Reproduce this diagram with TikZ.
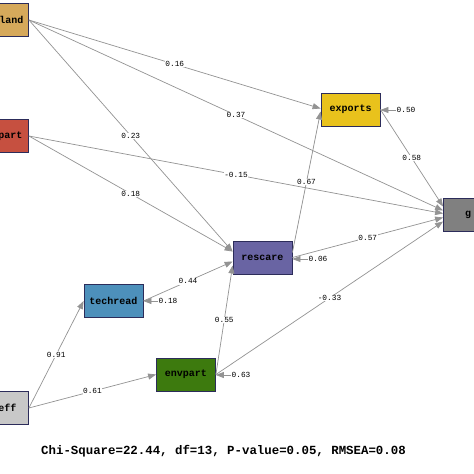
\documentclass[tikz,border=0pt]{standalone}
\usepackage{fontspec}
\setmonofont{Liberation Mono}
\usetikzlibrary{arrows.meta}

\definecolor{landcol}{HTML}{D6A95B}
\definecolor{partcol}{HTML}{C65040}
\definecolor{effcol}{HTML}{C8C8C8}
\definecolor{gdpcol}{HTML}{808080}
\definecolor{expcol}{HTML}{E9C21C}
\definecolor{rescol}{HTML}{6964A3}
\definecolor{techcol}{HTML}{4D90BB}
\definecolor{envcol}{HTML}{3D7A0E}
\definecolor{edgecol}{HTML}{939393}
\definecolor{rimcol}{HTML}{2C2C5A}

\begin{document}
\begin{tikzpicture}[x=1pt,y=-1pt,
  box/.style={draw=rimcol,line width=0.8pt,minimum width=59pt,minimum height=33pt,inner sep=0pt,
    font=\fontsize{10}{12}\selectfont\ttfamily\bfseries},
  link/.style={draw=edgecol,line width=0.7pt,-{Triangle[length=8pt,width=6pt]}},
  lab/.style={fill=white,inner sep=0.6pt,font=\fontsize{7.8}{9}\selectfont\ttfamily}]
  \useasboundingbox[fill=white] (0,0) rectangle (474,474);

  \node[box,fill=landcol] (land) at (-1,20) {\makebox[49pt][r]{land}};
  \node[box,fill=partcol] (part) at (-1,136) {\makebox[47pt][r]{part}};
  \node[box,fill=effcol] (eff) at (-1,408) {\makebox[35pt][r]{eff}};
  \node[box,fill=gdpcol] (gdp) at (473,214.5) {\makebox[16pt][l]{g}};
  \node[box,fill=expcol] (exports) at (350.5,109.5) {exports};
  \node[box,fill=rescol] (rescare) at (262.5,257.5) {rescare};
  \node[box,fill=techcol] (techread) at (113.5,301) {techread};
  \node[box,fill=envcol] (envpart) at (186,374.5) {envpart};

  \coordinate (gdp1) at ([yshift=8pt]gdp.west);
  \coordinate (gdp2) at ([yshift=4pt]gdp.west);
  \coordinate (gdp3) at ([yshift=1pt]gdp.west);
  \coordinate (gdp4) at ([yshift=-3pt]gdp.west);
  \coordinate (gdp5) at ([yshift=-7pt]gdp.west);
  \coordinate (res0) at ([yshift=5pt]rescare.east);
  \coordinate (res1) at ([yshift=6pt]rescare.west);
  \coordinate (res2) at ([yshift=-4pt]rescare.west);
  \coordinate (res3) at ([yshift=-8pt]rescare.west);
  \coordinate (exp1) at ([yshift=1pt]exports.west);
  \coordinate (exp2) at ([yshift=-2pt]exports.west);

  % residual arrows
  \foreach \n/\t/\x/\y/\v in {eexp/exports/406/110/0.50, eres/rescare/318/259/0.06,
                              etech/techread/168/301/0.18, eenv/envpart/241/375/0.63}{
    \node[lab] (\n) at (\x,\y) {\v};
    \draw[link] (\n.west) -- (\n.west -| \t.east);
  }

  \foreach \a/\b/\w in {land.east/exp1/0.16, land.east/gdp2/0.37, land.east/res1/0.23,
                        part.east/gdp3/-0.15, part.east/res1/0.18, res0/exp2/0.67,
                        exports.east/gdp1/0.58, rescare.east/gdp4/0.57, techread.east/res2/0.44,
                        envpart.east/res3/0.55, envpart.east/gdp5/-0.33,
                        eff.east/techread.west/0.91, eff.east/envpart.west/0.61}{
    \draw[link] (\a) -- node[lab]{\w} (\b);
  }

  \node[font=\fontsize{12.4}{14}\selectfont\ttfamily\bfseries] (fit) at (223.5,451)
    {Chi-Square=22.44, df=13, P-value=0.05, RMSEA=0.08};
\end{tikzpicture}
\end{document}
